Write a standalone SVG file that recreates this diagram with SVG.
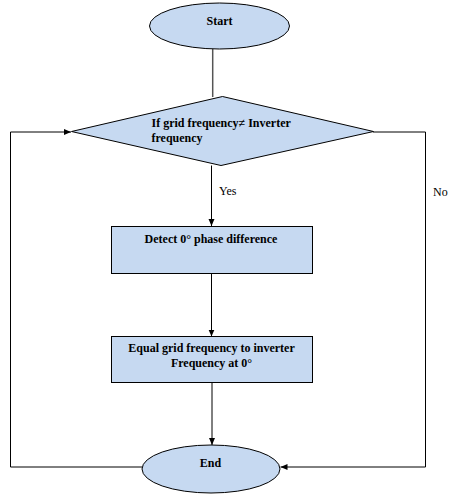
<svg xmlns="http://www.w3.org/2000/svg" width="456" height="498" viewBox="0 0 456 498">
<style>
.shape{fill:#C6D9F1;stroke:#000;stroke-width:1}
.t{font-family:"Liberation Serif","Times New Roman",serif;font-size:12px;font-weight:bold;fill:#000}
.l{font-family:"Liberation Serif","Times New Roman",serif;font-size:12px;fill:#000}
.c{fill:none;stroke:#000;stroke-width:1}
</style>
<defs>
<marker id="ah" markerWidth="8" markerHeight="8" refX="7" refY="4" orient="auto" markerUnits="userSpaceOnUse">
<path d="M0,1 L7,4 L0,7 Z" fill="#000"/>
</marker>
</defs>
<rect width="456" height="498" fill="#fff"/>
<g id="connectors">
<line x1="212.7" y1="49" x2="212.7" y2="97" stroke="#555" stroke-width="1.5"/>
<line class="c" x1="211.5" y1="165.5" x2="211.5" y2="226" marker-end="url(#ah)"/>
<line class="c" x1="211.5" y1="273.5" x2="211.5" y2="336.5" marker-end="url(#ah)"/>
<line class="c" x1="212" y1="382.5" x2="212" y2="445" marker-end="url(#ah)"/>
<polyline class="c" points="373,132 425.5,132 425.5,467 280.5,467" marker-end="url(#ah)"/>
<polyline class="c" points="142,467 10.5,467 10.5,132 71,132" marker-end="url(#ah)"/>
<text class="l" x="219" y="195">Yes</text>
<text class="l" x="433" y="196">No</text>
</g>
<g id="start">
<ellipse class="shape" cx="219.5" cy="26" rx="70" ry="23"/>
<text class="t" x="219.5" y="25" text-anchor="middle">Start</text>
</g>
<g id="decision">
<polygon class="shape" points="71.5,131.5 222.5,96.5 373.5,131.5 221,165.5"/>
<text class="t" x="151.5" y="127">If grid frequency≠ Inverter</text>
<text class="t" x="151.5" y="142">frequency</text>
</g>
<g id="detect">
<rect class="shape" x="111.5" y="226.5" width="201" height="47"/>
<text class="t" x="211" y="243" text-anchor="middle">Detect 0° phase difference</text>
</g>
<g id="equal">
<rect class="shape" x="111.5" y="336.5" width="201" height="46"/>
<text class="t" x="211.5" y="352" text-anchor="middle">Equal grid frequency to inverter</text>
<text class="t" x="211.5" y="367" text-anchor="middle">Frequency at 0°</text>
</g>
<g id="end">
<ellipse class="shape" cx="211" cy="469" rx="69" ry="24"/>
<text class="t" x="210.5" y="467" text-anchor="middle">End</text>
</g>
</svg>
